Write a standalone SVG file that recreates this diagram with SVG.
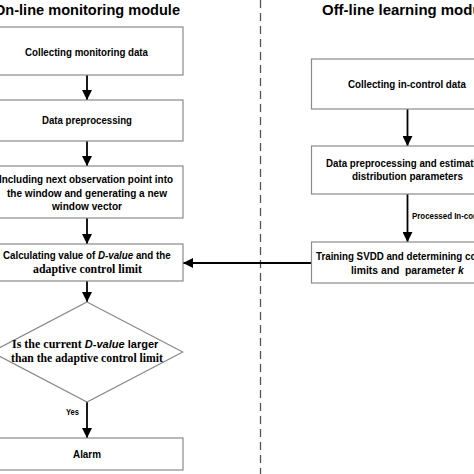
<svg xmlns="http://www.w3.org/2000/svg" width="474" height="474" viewBox="0 0 474 474">
<defs>
<style>
.box{fill:#fff;stroke:#8a8a8a;stroke-width:1.2}
.t{font-family:"Liberation Sans",Arial,sans-serif;font-weight:bold;font-size:11.5px;fill:#000}
.s{font-family:"Liberation Serif","Times New Roman",serif;font-weight:bold;font-size:12.5px;fill:#000}
.i{font-family:"Liberation Sans",Arial,sans-serif;font-weight:bold;font-style:italic;font-size:11.5px}
.title{font-family:"Liberation Sans",Arial,sans-serif;font-weight:bold;font-size:15.5px;fill:#000}
.small{font-family:"Liberation Sans",Arial,sans-serif;font-weight:bold;font-size:8.5px;fill:#000}
.conn{stroke:#000;stroke-width:1.8;fill:none;marker-end:url(#ah)}
</style>
<marker id="ah" markerUnits="userSpaceOnUse" markerWidth="10" markerHeight="10" refX="10" refY="5" orient="auto">
<path d="M0,0 L10,5 L0,10 z" fill="#000"/>
</marker>
</defs>
<rect width="474" height="474" fill="#fff"/>
<line x1="260.5" y1="0" x2="260.5" y2="474" stroke="#555" stroke-width="1.3" stroke-dasharray="8 5"/>
<text class="title" x="-6" y="14.5" textLength="186" lengthAdjust="spacingAndGlyphs">On-line monitoring module</text>
<text class="title" x="322" y="14.5" textLength="172" lengthAdjust="spacingAndGlyphs">Off-line learning module</text>

<g id="connectors">
<line class="conn" x1="87" y1="75" x2="87" y2="100"/>
<line class="conn" x1="87" y1="141" x2="87" y2="166"/>
<line class="conn" x1="87" y1="218" x2="87" y2="244"/>
<line class="conn" x1="87" y1="281" x2="87" y2="302"/>
<line class="conn" x1="87" y1="402" x2="87" y2="438"/>
<text class="small" x="66" y="415" textLength="13" lengthAdjust="spacingAndGlyphs">Yes</text>
<line class="conn" x1="407.5" y1="109" x2="407.5" y2="146"/>
<line class="conn" x1="407.5" y1="194" x2="407.5" y2="242"/>
<text class="small" x="412" y="219" textLength="97" lengthAdjust="spacingAndGlyphs">Processed In-control data</text>
<line class="conn" x1="311.5" y1="263" x2="183" y2="263"/>
</g>

<g id="n1">
<rect class="box" x="-9" y="27" width="192" height="48"/>
<text class="t" x="25" y="56" textLength="123" lengthAdjust="spacingAndGlyphs">Collecting monitoring data</text>
</g>
<g id="n2">
<rect class="box" x="-9" y="100" width="192" height="41"/>
<text class="t" x="42" y="123.5" textLength="90" lengthAdjust="spacingAndGlyphs">Data preprocessing</text>
</g>
<g id="n3">
<rect class="box" x="-9" y="166" width="192" height="52"/>
<text class="t" x="-1" y="183" textLength="174" lengthAdjust="spacingAndGlyphs">Including next observation point into</text>
<text class="t" x="7" y="196.5" textLength="160" lengthAdjust="spacingAndGlyphs">the window and generating a new</text>
<text class="t" x="52" y="210" textLength="70" lengthAdjust="spacingAndGlyphs">window vector</text>
</g>
<g id="n4">
<rect class="box" x="-9" y="244" width="192" height="37"/>
<text class="t" transform="translate(3,259) scale(0.85,1)">Calculating value of <tspan class="i">D-value</tspan> and the</text>
<text class="s" x="33" y="273" textLength="109" lengthAdjust="spacingAndGlyphs">adaptive control limit</text>
</g>
<g id="n5">
<polygon class="box" points="87,302 182.7,352 87,402 -8.7,352"/>
<text class="s" transform="translate(12,348) scale(0.96,1)">Is the current <tspan class="i" font-size="10.5px">D-value</tspan><tspan font-family="Liberation Sans, Arial, sans-serif" font-size="11.5px"> larger</tspan></text>
<text class="s" x="11" y="362" textLength="152" lengthAdjust="spacingAndGlyphs">than the adaptive control limit</text>
</g>
<g id="n6">
<rect class="box" x="-9" y="438" width="192" height="32"/>
<text class="t" x="73" y="458" textLength="28" lengthAdjust="spacingAndGlyphs">Alarm</text>
</g>

<g id="r1">
<rect class="box" x="311.5" y="59" width="192" height="50"/>
<text class="t" x="348" y="88" textLength="118" lengthAdjust="spacingAndGlyphs">Collecting in-control data</text>
</g>
<g id="r2">
<rect class="box" x="311.5" y="146" width="192" height="48"/>
<text class="t" x="326" y="166.5" textLength="162" lengthAdjust="spacingAndGlyphs">Data preprocessing and estimating</text>
<text class="t" x="352" y="180" textLength="111" lengthAdjust="spacingAndGlyphs">distribution parameters</text>
</g>
<g id="r3">
<rect class="box" x="311.5" y="242" width="192" height="41"/>
<text class="t" x="316" y="260" textLength="182" lengthAdjust="spacingAndGlyphs">Training SVDD and determining control</text>
<text class="t" transform="translate(351,273.5) scale(0.9,1)" xml:space="preserve">limits and  parameter <tspan class="i">k</tspan></text>
</g>
</svg>
